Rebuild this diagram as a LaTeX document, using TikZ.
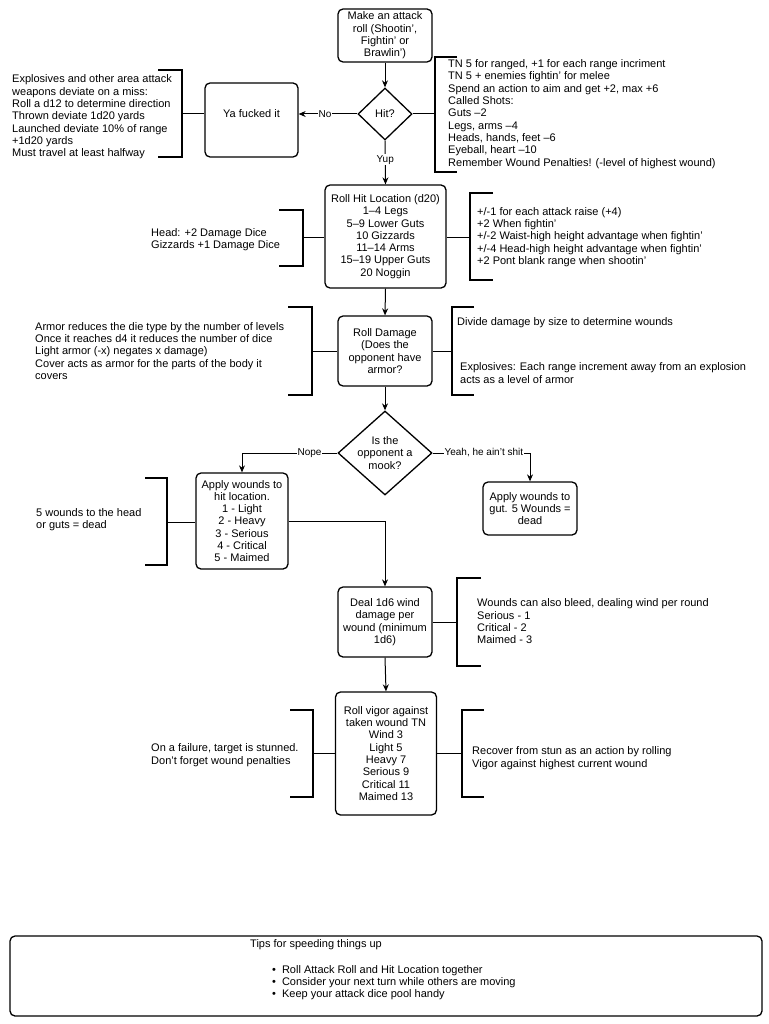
\documentclass[tikz,border=0pt]{standalone}
\usepackage{fontspec}
\setmainfont{Liberation Sans}
\usetikzlibrary{shapes.geometric,arrows.meta}
\begin{document}
\begin{tikzpicture}[x=1pt,y=-1pt,
  every node/.style={font=\fontsize{11}{12.3}\selectfont, inner sep=0pt},
  box/.style={draw, rounded corners=5pt, line width=1.3pt, align=center},
  dia/.style={draw, diamond, line width=1.3pt, inner sep=0pt},
  note/.style={anchor=west, align=left},
  brk/.style={line width=2pt},
  con/.style={line width=1pt},
  arr/.style={line width=1pt, -{Stealth[length=7pt,width=6pt]}},
  lbl/.style={fill=white, font=\fontsize{10}{12}\selectfont, inner sep=1pt},
]
\useasboundingbox (0,0) rectangle (768,1024);

% main nodes
\node[box, minimum width=94pt, minimum height=53pt] (start) at (385,35.5)
  {Make an attack\\roll (Shootin',\\Fightin' or\\Brawlin')};
\node[dia, minimum width=54pt, minimum height=52pt] (hit) at (385,114) {};
\node at (hit) {Hit?};
\node[box, minimum width=93pt, minimum height=74pt] (ya) at (251.5,120) {};
\node at (251.5,114) {Ya fucked it};
\node[box, minimum width=121pt, minimum height=103pt] (loc) at (385.5,236.5)
  {Roll Hit Location (d20)\\1–4 Legs\\5–9 Lower Guts\\10 Gizzards\\11–14 Arms\\15–19 Upper Guts\\20 Noggin};
\node[box, minimum width=94pt, minimum height=70pt] (dmg) at (385,351)
  {Roll Damage\\(Does the\\opponent have\\armor?};
\node[dia, minimum width=94pt, minimum height=84pt] (mook) at (385,453) {};
\node[align=center] at (mook) {Is the\\opponent a\\mook?};
\node[box, minimum width=92pt, minimum height=96pt] (apply) at (242,521)
  {Apply wounds to\\hit location.\\1 - Light\\2 - Heavy\\3 - Serious\\4 - Critical\\5 - Maimed};
\node[box, minimum width=94pt, minimum height=53pt] (gut) at (530,508.5)
  {Apply wounds to\\gut. 5 Wounds =\\dead};
\node[box, minimum width=94pt, minimum height=70pt] (deal) at (385,622)
  {Deal 1d6 wind\\damage per\\wound (minimum\\1d6)};
\node[box, minimum width=101pt, minimum height=123pt] (vig) at (386,753.5)
  {Roll vigor against\\taken wound TN\\Wind 3\\Light 5\\Heavy 7\\Serious 9\\Critical 11\\Maimed 13};

% brackets
\coordinate (b1) at (182,114);
\draw[brk] (158,70) -- (182,70) -- (182,157) -- (158,157);
\coordinate (b2) at (435,114);
\draw[brk] (457,57) -- (435,57) -- (435,172) -- (457,172);
\coordinate (b3) at (303,237);
\draw[brk] (279,210) -- (303,210) -- (303,266) -- (279,266);
\coordinate (b4) at (470,237);
\draw[brk] (493,193) -- (470,193) -- (470,280) -- (493,280);
\coordinate (b5) at (312,351);
\draw[brk] (288,307) -- (312,307) -- (312,395) -- (288,395);
\coordinate (b6) at (452,351);
\draw[brk] (474,307) -- (452,307) -- (452,395) -- (474,395);
\coordinate (b7) at (167,522);
\draw[brk] (145,478) -- (167,478) -- (167,565) -- (145,565);
\coordinate (b8) at (457,622);
\draw[brk] (481,578) -- (457,578) -- (457,666) -- (481,666);
\coordinate (b9) at (313,753);
\draw[brk] (290,710) -- (313,710) -- (313,797) -- (290,797);
\coordinate (b10) at (462,753);
\draw[brk] (484,710) -- (462,710) -- (462,797) -- (484,797);

% notes
\node[note] (n1) at (12,117) {Explosives and other area attack\\weapons deviate on a miss:\\Roll a d12 to determine direction\\Thrown deviate 1d20 yards\\Launched deviate 10\% of range\\+1d20 yards\\Must travel at least halfway};
\node[note] (n2) at (448,114) {TN 5 for ranged, +1 for each range incriment\\TN 5 + enemies fightin' for melee\\Spend an action to aim and get +2, max +6\\Called Shots:\\Guts –2\\Legs, arms –4\\Heads, hands, feet –6\\Eyeball, heart –10\\Remember Wound Penalties! (-level of highest wound)};
\node[note] (n3) at (151,240) {Head: +2 Damage Dice\\Gizzards +1 Damage Dice};
\node[note] (n4) at (477,237) {+/-1 for each attack raise (+4)\\+2 When fightin'\\+/-2 Waist-high height advantage when fightin'\\+/-4 Head-high height advantage when fightin'\\+2 Pont blank range when shootin'};
\node[note] (n5) at (35,351) {Armor reduces the die type by the number of levels\\Once it reaches d4 it reduces the number of dice\\Light armor (-x) negates x damage)\\Cover acts as armor for the parts of the body it\\covers};
\node[note] (n6) at (457,323) {Divide damage by size to determine wounds};
\node[note] (n7) at (460,373) {Explosives: Each range increment away from an explosion\\acts as a level of armor};
\node[note] (n8) at (36,519.5) {5 wounds to the head\\or guts = dead};
\node[note] (n9) at (477,621.5) {Wounds can also bleed, dealing wind per round\\Serious - 1\\Critical - 2\\Maimed - 3};
\node[note] (n10) at (151,755) {On a failure, target is stunned.\\Don't forget wound penalties};
\node[note] (n11) at (472,758) {Recover from stun as an action by rolling\\Vigor against highest current wound};

% connectors
\draw[arr] (start.south) -- (hit.north);
\draw[arr] (hit.west) -- node[lbl, pos=0.55]{No} (hit.west -| ya.east);
\draw[arr] (hit.south) -- node[lbl, pos=0.44]{Yup} (loc.north);
\draw[con] (hit.east) -- (b2);
\draw[con] (b1) -- (b1 -| ya.west);
\draw[con] (b3) -- (b3 -| loc.west);
\draw[con] (loc.east |- b4) -- (b4);
\draw[arr] (loc.south) -- (dmg.north);
\draw[con] (b5) -- (b5 -| dmg.west);
\draw[con] (dmg.east |- b6) -- (b6);
\draw[arr] (dmg.south) -- (mook.north);
\draw[arr] (mook.west) -| node[lbl, pos=0.146]{Nope} (apply.north);
\draw[arr] (mook.east) -| node[lbl, pos=0.263]{Yeah, he ain't shit} (gut.north);
\draw[con] (b7) -- (b7 -| apply.west);
\draw[arr] (apply.east) -| (deal.north);
\draw[con] (deal.east |- b8) -- (b8);
\draw[arr] (deal.south) -- (vig.north);
\draw[con] (b9) -- (b9 -| vig.west);
\draw[con] (vig.east |- b10) -- (b10);

% tips
\node[box, minimum width=752pt, minimum height=80pt] (tips) at (386,976) {};
\node[note] (t1) at (250,945) {Tips for speeding things up};
\node[note] (t2) at (272,982.5) {•\hspace{6pt}Roll Attack Roll and Hit Location together\\•\hspace{6pt}Consider your next turn while others are moving\\•\hspace{6pt}Keep your attack dice pool handy};
\end{tikzpicture}
\end{document}
